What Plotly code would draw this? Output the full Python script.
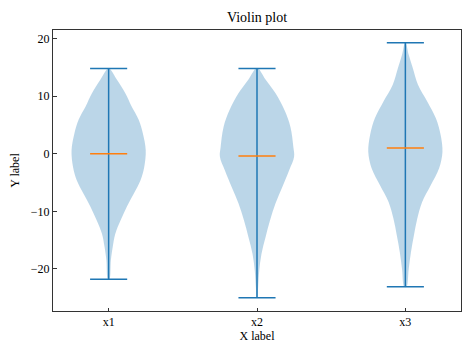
import plotly.graph_objects as go

categories = ["x1", "x2", "x3"]
positions = [1, 2, 3]

# extremes and medians
maxima = [14.8, 14.8, 19.3]
minima = [-21.8, -25.0, -23.1]
medians = [0.0, -0.4, 1.0]

# violin profiles: y level -> relative density (1 = widest)
v1_y = [14.8, 12.9, 10.5, 8.2, 5.9, 3.6, 0.6, -2.3, -4.6, -6.9, -9.2, -11.6, -13.9, -16.2, -18.5, -21.8]
v1_d = [0.02, 0.22, 0.45, 0.62, 0.81, 0.92, 1.0, 0.96, 0.86, 0.68, 0.49, 0.32, 0.18, 0.11, 0.06, 0.02]

v2_y = [14.8, 12.9, 10.5, 7.6, 4.7, 1.2, -0.5, -2.8, -5.8, -8.6, -11.6, -14.5, -17.4, -20.3, -23.2, -25.0]
v2_d = [0.03, 0.23, 0.50, 0.74, 0.90, 0.98, 1.0, 0.87, 0.68, 0.50, 0.35, 0.23, 0.12, 0.06, 0.03, 0.01]

v3_y = [19.3, 17.2, 14.9, 12.0, 9.1, 6.2, 3.3, 0.3, -2.5, -5.5, -8.4, -11.3, -14.2, -17.1, -20.0, -23.1]
v3_d = [0.01, 0.09, 0.20, 0.34, 0.59, 0.82, 0.95, 1.0, 0.91, 0.68, 0.45, 0.32, 0.23, 0.15, 0.09, 0.03]

profiles = [(v1_y, v1_d), (v2_y, v2_d), (v3_y, v3_d)]

HALF_WIDTH = 0.25
CAP = 0.125
BLUE = "#1f77b4"
ORANGE = "#ff7f0e"
FONT = "Liberation Serif, Times New Roman, serif"

fig = go.Figure()

for pos, (ys, ds) in zip(positions, profiles):
    xs_right = [pos + HALF_WIDTH * d for d in ds]
    xs_left = [pos - HALF_WIDTH * d for d in reversed(ds)]
    fig.add_trace(go.Scatter(
        x=xs_right + xs_left + [xs_right[0]],
        y=ys + list(reversed(ys)) + [ys[0]],
        mode="lines", line=dict(width=0, shape="spline", smoothing=1.0),
        fill="toself", fillcolor="rgba(31,119,180,0.3)",
        hoverinfo="skip", showlegend=False,
    ))

for pos, mx, mn, md in zip(positions, maxima, minima, medians):
    fig.add_trace(go.Scatter(x=[pos, pos], y=[mn, mx], mode="lines",
                             line=dict(color=BLUE, width=1.5), showlegend=False))
    fig.add_trace(go.Scatter(x=[pos - CAP, pos + CAP], y=[mx, mx], mode="lines",
                             line=dict(color=BLUE, width=1.5), showlegend=False))
    fig.add_trace(go.Scatter(x=[pos - CAP, pos + CAP], y=[mn, mn], mode="lines",
                             line=dict(color=BLUE, width=1.5), showlegend=False))
    fig.add_trace(go.Scatter(x=[pos - CAP, pos + CAP], y=[md, md], mode="lines",
                             line=dict(color=ORANGE, width=1.5), showlegend=False))

# page body has an 8px default margin; size the figure to fit the window
W, H = 458, 339
fig.update_layout(
    width=W, height=H,
    margin=dict(l=45, r=5, t=22, b=36, autoexpand=False),
    paper_bgcolor="white", plot_bgcolor="white",
    font=dict(family=FONT, size=12, color="black"),
    title=dict(text="Violin plot", x=0.5, xanchor="center", xref="paper",
               y=1 - 9 / H, yref="container", yanchor="middle",
               font=dict(family=FONT, size=14, color="black")),
    showlegend=False,
)
fig.update_xaxes(
    range=[0.625, 3.375], tickvals=positions, ticktext=categories,
    showgrid=False, zeroline=False, showline=True, linecolor="#333", linewidth=1,
    mirror=True, ticks="inside", ticklen=3.5, tickcolor="#333", automargin=False,
    title=dict(text="X label", standoff=1, font=dict(family=FONT, size=12)),
)
fig.update_yaxes(
    range=[-27.3, 21.5], tickvals=[-20, -10, 0, 10, 20],
    showgrid=False, zeroline=False, showline=True, linecolor="#333", linewidth=1,
    mirror=True, ticks="inside", ticklen=3.5, tickcolor="#333", automargin=False,
    title=dict(text="Y label", standoff=16, font=dict(family=FONT, size=12)),
)

fig.write_html("out.html")
